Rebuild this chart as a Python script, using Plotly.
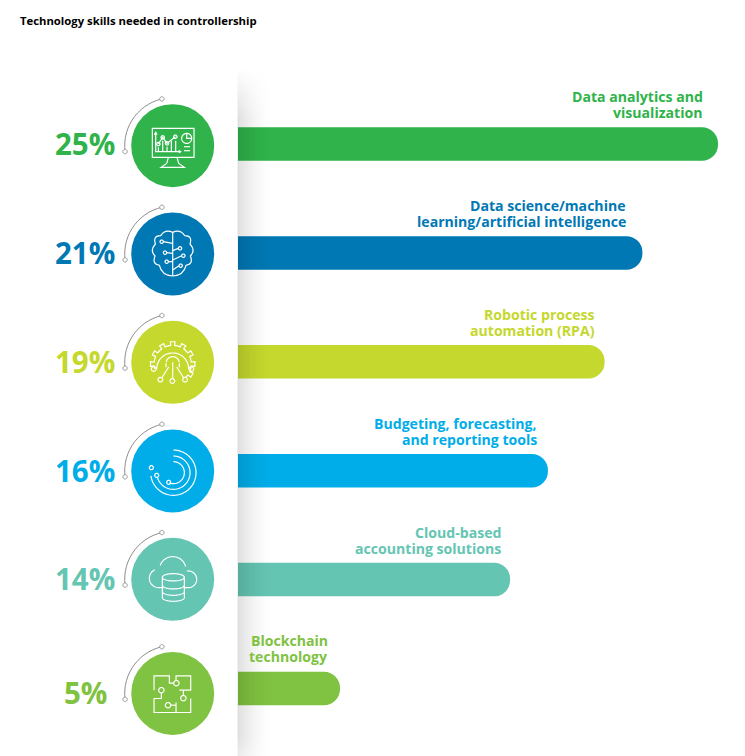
import numpy as np
import plotly.graph_objects as go

W, H = 745, 756

# Chart data
categories = ["Data analytics and visualization",
              "Data science/machine learning/artificial intelligence",
              "Robotic process automation (RPA)",
              "Budgeting, forecasting, and reporting tools",
              "Cloud-based accounting solutions",
              "Blockchain technology"]
shares = [25, 21, 19, 16, 14, 5]
colors = ["#2FB34A", "#0078B4", "#C4D82D", "#00ADE9", "#64C5B2", "#80C241"]
label_lines = [["Data analytics and", "visualization"],
               ["Data science/machine", "learning/artificial intelligence"],
               ["Robotic process", "automation (RPA)"],
               ["Budgeting, forecasting,", "and reporting tools"],
               ["Cloud-based", "accounting solutions"],
               ["Blockchain", "technology"]]

# Layout constants, in page pixels
FONT = "Open Sans"
BAR_LEFT, BAR_RIGHT = 238, 718
BAR_H = 33.5
ROW_TOP, ROW_STEP = 144.0, 108.9
AXIS_MIN = -0.397
BAR_BASE = AXIS_MIN - 2
circle_cy = [145.7, 254.0, 362.3, 471.0, 579.3, 693.5]
CIRCLE_CX, CIRCLE_R = 172.7, 41.5
value_cy = [143.7, 252.7, 361.7, 470.7, 578.2, 692.7]
label_right = [705, 628, 597, 539, 503, 330]
label_y1 = [96, 205, 314, 423, 532, 640]
LINE_GAP = 16


# Path helpers: icon geometry is given in a local frame 3x the pixel scale,
# centred on the circle it sits in.
def to_px(pts, cx, cy):
    return [(cx + x / 3, cy + y / 3) for x, y in pts]


def poly(pts, cx, cy, close=False):
    p = to_px(pts, cx, cy)
    s = "M" + " L".join(f"{x:.2f},{y:.2f}" for x, y in p)
    return s + (" Z" if close else "")


def arc_pts(ax, ay, r, a0, a1, ry=None):
    ry = r if ry is None else ry
    t = np.radians(np.linspace(a0, a1, max(8, int(abs(a1 - a0) / 5))))
    return [(ax + r * np.cos(v), ay + ry * np.sin(v)) for v in t]


def ring(ax, ay, r, cx, cy):
    return poly(arc_pts(ax, ay, r, 0, 360), cx, cy, close=True)


def scallop(pts, cx, cy):
    # Chain of quadratic lobes: start, (control, end), (control, end)...
    p = to_px(pts, cx, cy)
    s = f"M{p[0][0]:.2f},{p[0][1]:.2f}"
    for i in range(1, len(p) - 1, 2):
        s += f" Q{p[i][0]:.2f},{p[i][1]:.2f} {p[i+1][0]:.2f},{p[i+1][1]:.2f}"
    return s


def monitor_icon(cx, cy):
    out = [poly([(-61, -52), (64, -52), (64, 35), (-61, 35)], cx, cy, True),
           poly([(-13, 35), (-18, 53), (-35, 65), (35, 65), (18, 53), (13, 35)], cx, cy),
           poly([(-51, -40), (-51, 18), (22, 18)], cx, cy),
           poly([(-55, -33), (-51, -40), (-47, -33)], cx, cy),
           poly([(18, 14), (24, 18), (18, 22)], cx, cy)]
    for x, top in [(-43, 5), (-30, -15), (-17, 3), (-4, -15), (9, -15)]:
        out.append(poly([(x, 18), (x, top)], cx, cy))
    pts = [(-43, -5), (-30, -25), (-17, -7), (8, -27)]
    out.append(poly(pts, cx, cy))
    for x, y in pts:
        out.append(ring(x, y, 5, cx, cy))
    out.append(ring(42, -22, 15, cx, cy))
    out.append(poly([(42, -37), (42, -22), (57, -22)], cx, cy))
    out.append(poly([(34, 3), (52, 3)], cx, cy))
    out.append(poly([(34, 15), (52, 15)], cx, cy))
    return out


def brain_icon(cx, cy):
    left = [(0, -65), (-23, -75), (-36, -55), (-60, -55), (-52, -30), (-70, -10), (-53, 6),
            (-63, 30), (-40, 34), (-33, 64), (0, 66)]
    right = [(-x, y) for x, y in left]
    out = [scallop(left, cx, cy), scallop(right, cx, cy),
           poly([(0, -65), (0, 66)], cx, cy)]
    for x, y, yb in [(-33, -37, -32), (-23, -4, -2), (-18, 23, 23),
                     (22, -17, -10), (32, 5, 18), (24, 35, 48)]:
        sign = 1 if x > 0 else -1
        out.append(ring(x, y, 5, cx, cy))
        out.append(poly([(x - sign * 5, y), (0, yb)], cx, cy))
    return out


def gear_icon(cx, cy):
    pts = []
    edges = np.arange(-195, 16, 30.0)
    for a in edges:
        pts += arc_pts(0, 5, 56, a, a + 9)[:: 7] + arc_pts(0, 5, 67, a + 9, a + 21)[:: 7]
        pts += arc_pts(0, 5, 56, a + 21, a + 30)[:: 7]
    out = [poly(pts, cx, cy),
           poly(arc_pts(0, 20, 48, 178, 362), cx, cy),
           poly(arc_pts(0, 3, 20, 190, 350), cx, cy),
           poly([(-20, 3), (-20, 15)], cx, cy), poly([(20, 3), (20, 15)], cx, cy),
           poly([(0, 0), (0, 49)], cx, cy),
           poly([(-12, 14), (-33, 47)], cx, cy), poly([(12, 14), (33, 47)], cx, cy)]
    for x, y in [(-57, 20), (56, 20), (-37, 52), (-1, 56), (37, 52)]:
        out.append(ring(x, y, 7, cx, cy))
    return out


def radar_icon(cx, cy):
    out = [poly(arc_pts(2, 5, 68, -90, 172), cx, cy),
           poly(arc_pts(2, 5, 50, -90, 162), cx, cy),
           poly(arc_pts(2, 5, 33, -90, 112), cx, cy)]
    for x, y in [(-64, -10), (-48, 13), (-12, 34)]:
        out.append(ring(x, y, 6, cx, cy))
    return out


def cloud_icon(cx, cy):
    out = [poly([(-31, 25), (-42, 25)] + arc_pts(-42, -3, 28, 90, 245), cx, cy),
           poly(arc_pts(0, -28, 40, 200, 345), cx, cy),
           poly(arc_pts(47, 0, 25, -100, 90) + [(36, 25)], cx, cy),
           poly(arc_pts(2, -6, 33, 0, 360, 11), cx, cy, True),
           poly([(-31, -6), (-31, 55)] + arc_pts(2, 55, 33, 180, 0, 11) + [(35, -6)], cx, cy),
           poly(arc_pts(2, 18, 33, 180, 0, 11), cx, cy),
           poly(arc_pts(2, 37, 33, 180, 0, 11), cx, cy)]
    return out


def puzzle_icon(cx, cy):
    out = [poly([(-56, -10), (-56, -53), (-10, -53), (-10, -31), (4, -31)], cx, cy),
           poly([(10, -40), (10, -53), (54, -53), (54, -10), (20, -10)], cx, cy),
           poly([(32, -10), (32, 6)], cx, cy),
           poly([(-34, -2), (-34, 15), (-56, 15), (-56, 57), (54, 57), (54, 15)], cx, cy),
           poly([(10, 27), (10, 57)], cx, cy), poly([(-6, 35), (10, 35)], cx, cy)]
    for x, y in [(11, -31), (-34, -10), (32, 14), (-14, 35)]:
        out.append(ring(x, y, 8, cx, cy))
    return out


icon_makers = [monitor_icon, brain_icon, gear_icon, radar_icon, cloud_icon, puzzle_icon]

fig = go.Figure()

# Bars on the lower subplot. Each starts left of the visible axis range, so the
# plot area clips it square at the panel edge and only the tip stays rounded.
fig.add_trace(go.Bar(
    y=categories, x=[s - BAR_BASE for s in shares], base=BAR_BASE, orientation="h",
    width=BAR_H / ROW_STEP, marker=dict(color=colors, line_width=0, cornerradius=17),
    hoverinfo="skip", showlegend=False, xaxis="x", yaxis="y"))

# Soft panel shadow laid over the start of the bars
gx = np.arange(BAR_LEFT, 276, 1.0)
gy = np.arange(66, H + 1, 2.0)
falloff = np.clip(1 - (gx - BAR_LEFT) / 34, 0, 1) ** 1.6
fade = np.clip((gy - 68) / 50, 0, 1) * np.clip((H + 30 - gy) / 50, 0, 1)
fig.add_trace(go.Heatmap(
    x=gx, y=gy, z=np.outer(fade, falloff), zmin=0, zmax=1, showscale=False, hoverinfo="skip",
    colorscale=[[0, "rgba(0,0,0,0)"], [1, "rgba(0,0,0,0.12)"]], xaxis="x2", yaxis="y2"))

shapes, annotations = [], []


def deco(**kw):
    shapes.append(dict(xref="x2", yref="y2", layer="above", **kw))


for i, color in enumerate(colors):
    cy = circle_cy[i]
    deco(type="circle", x0=CIRCLE_CX - CIRCLE_R, x1=CIRCLE_CX + CIRCLE_R,
         y0=cy - CIRCLE_R, y1=cy + CIRCLE_R, fillcolor=color, line_width=0)
    # Thin grey arc with a small ring at each end
    arc = arc_pts(0, 0, 144, 173, 257)
    deco(type="path", path=poly(arc, CIRCLE_CX, cy), line=dict(color="#8E8E8E", width=1))
    for ex, ey in (arc[0], arc[-1]):
        deco(type="path", path=ring(ex, ey, 6.5, CIRCLE_CX, cy),
             fillcolor="white", line=dict(color="#8E8E8E", width=1))
    for path in icon_makers[i](CIRCLE_CX, cy):
        deco(type="path", path=path, line=dict(color="white", width=1.2))

    annotations.append(dict(xref="x2", yref="y2", x=85, y=value_cy[i], text=f"{shares[i]}%",
                            showarrow=False, xanchor="center", yanchor="middle",
                            font=dict(family=FONT, size=29.5, color=color, weight="bold")))
    for j, line in enumerate(label_lines[i]):
        annotations.append(dict(xref="x2", yref="y2", x=label_right[i], y=label_y1[i] + j * LINE_GAP,
                                text=line, showarrow=False, xanchor="right", yanchor="middle",
                                font=dict(family=FONT, size=14.1, color=color, weight="bold")))

annotations.append(dict(xref="x2", yref="y2", x=18, y=20,
                        text="Technology skills needed in controllership", showarrow=False,
                        xanchor="left", yanchor="middle",
                        font=dict(family=FONT, size=11.3, color="#000000", weight="bold")))

hidden = dict(visible=False, showgrid=False, zeroline=False, fixedrange=True)
fig.update_layout(
    width=W, height=H, margin=dict(l=0, r=0, t=0, b=0), autosize=False,
    paper_bgcolor="white", plot_bgcolor="rgba(0,0,0,0)",
    shapes=shapes, annotations=annotations, showlegend=False,
    # Bar scale: the axis spans the panel edge to the longest bar's tip
    xaxis=dict(domain=[BAR_LEFT / W, BAR_RIGHT / W], range=[AXIS_MIN, 25], anchor="y", **hidden),
    yaxis=dict(domain=[0, 1], type="category", categoryorder="array", categoryarray=categories,
               range=[H / ROW_STEP - ROW_TOP / ROW_STEP, -ROW_TOP / ROW_STEP], anchor="x", **hidden),
    # Page-pixel frame for the panel shadow, circles, icons and text
    xaxis2=dict(domain=[0, 1], range=[0, W], anchor="y2", **hidden),
    yaxis2=dict(domain=[0, 1], range=[H, 0], anchor="x2", **hidden),
)

fig.write_html("out.html", config=dict(displayModeBar=False))
